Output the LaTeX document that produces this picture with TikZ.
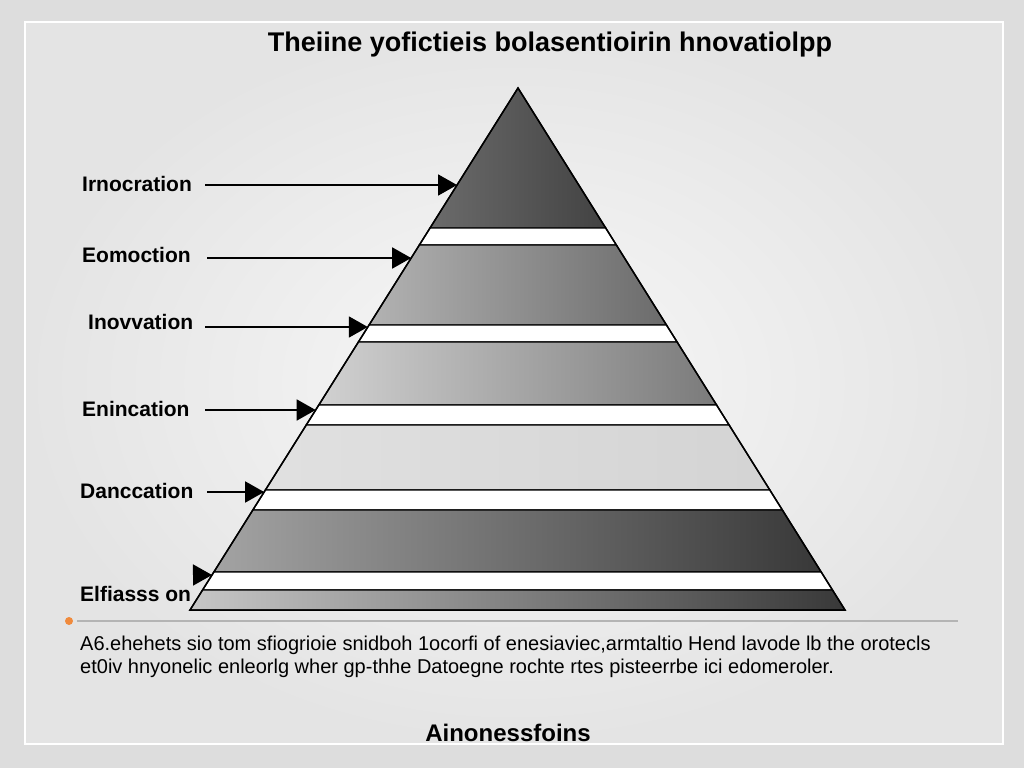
\documentclass[tikz,border=0pt]{standalone}
\usepackage{fontspec}
\setmainfont{Liberation Sans}
\usetikzlibrary{calc,arrows.meta}
\definecolor{bgout}{HTML}{DDDDDD}
\definecolor{bgin}{HTML}{F8F8F8}
\definecolor{bgedge}{HTML}{E4E4E4}
\definecolor{rulegray}{HTML}{B4B4B4}
\definecolor{dotorange}{HTML}{F08A3C}
\begin{document}
\begin{tikzpicture}[x=1pt,y=-1pt,
  lbl/.style={font=\fontsize{21}{24}\selectfont\bfseries, anchor=west, inner sep=0pt},
  arr/.style={draw=black, line width=1.7pt, -{Triangle[length=19pt,width=21pt]}},
  wband/.style={fill=white, draw=black, line width=1.3pt},
  sband/.style={draw=black, line width=1.3pt},
  desc/.style={font=\fontsize{20}{23}\selectfont, anchor=west, inner sep=0pt},
]
\useasboundingbox (0,0) rectangle (1024,768);
% background
\fill[bgout] (0,0) rectangle (1024,768);
\shade[inner color=bgin, outer color=bgedge] (25,22) rectangle (1003,744);
\draw[white, line width=2.5pt] (25,22) rectangle (1003,744);

% title
\node[font=\fontsize{27}{30}\selectfont\bfseries, inner sep=0pt] (title) at (550,45) {Theiine yofictieis bolasentioirin hnovatiolpp};

% pyramid coordinates
\coordinate (A) at (518,88);
\coordinate (L) at (190,610);
\coordinate (R) at (845,610);
\foreach \yy in {228,245,325,342,405,425,490,510,572,590} {
  \pgfmathsetmacro{\kk}{(\yy-88)/522}
  \coordinate (l\yy) at ($(A)!\kk!(L)$);
  \coordinate (r\yy) at ($(A)!\kk!(R)$);
}
\shade[sband, left color=black!58, right color=black!74] (A) -- (r228) -- (l228) -- cycle;
\draw[wband] (l228) -- (r228) -- (r245) -- (l245) -- cycle;
\shade[sband, left color=black!30, right color=black!58] (l245) -- (r245) -- (r325) -- (l325) -- cycle;
\draw[wband] (l325) -- (r325) -- (r342) -- (l342) -- cycle;
\shade[sband, left color=black!18, right color=black!52] (l342) -- (r342) -- (r405) -- (l405) -- cycle;
\draw[wband] (l405) -- (r405) -- (r425) -- (l425) -- cycle;
\shade[sband, left color=black!12, right color=black!17] (l425) -- (r425) -- (r490) -- (l490) -- cycle;
\draw[wband] (l490) -- (r490) -- (r510) -- (l510) -- cycle;
\shade[sband, left color=black!36, right color=black!78] (l510) -- (r510) -- (r572) -- (l572) -- cycle;
\draw[wband] (l572) -- (r572) -- (r590) -- (l590) -- cycle;
\shade[sband, left color=black!22, right color=black!78] (l590) -- (r590) -- (R) -- (L) -- cycle;
\draw[black, line width=1.5pt, line join=miter] (A) -- (R) -- (L) -- cycle;

% labels and arrows
\node[lbl] (n1) at (82,184) {Irnocration};
\node[lbl] (n2) at (82,255) {Eomoction};
\node[lbl] (n3) at (88,322) {Inovvation};
\node[lbl] (n4) at (82,409) {Enincation};
\node[lbl] (n5) at (80,491) {Danccation};
\node[lbl] (n6) at (80,594) {Elfiasss on};
\foreach \i/\yy in {1/185,2/258,3/327,4/410,5/492,6/575} {
  \pgfmathsetmacro{\kk}{(\yy-88)/522}
  \coordinate (t\i) at ($(A)!\kk!(L)$);
}
\coordinate (s1) at (205,185);
\coordinate (s2) at (207,258);
\coordinate (s3) at (205,327);
\coordinate (s4) at (205,410);
\coordinate (s5) at (207,492);
\coordinate (s6) at (194,575);
\foreach \i in {1,...,6} { \draw[arr] (s\i) -- (t\i); }

% rule with dot
\coordinate (ruleA) at (77,621);
\coordinate (ruleB) at (958,621);
\draw[rulegray, line width=2pt] (ruleA) -- (ruleB);
\fill[dotorange] (69,621) circle (4);

% description text
\node[desc] (d1) at (80,645) {A6.ehehets sio tom sfiogrioie snidboh 1ocorfi of enesiaviec,armtaltio Hend lavode lb the orotecls};
\node[desc] (d2) at (80,668) {et0iv hnyonelic enleorlg wher gp-thhe Datoegne rochte rtes pisteerrbe ici edomeroler.};

% footer label
\node[font=\fontsize{24}{27}\selectfont\bfseries, inner sep=0pt] (foot) at (508,733) {Ainonessfoins};
\end{tikzpicture}
\end{document}
